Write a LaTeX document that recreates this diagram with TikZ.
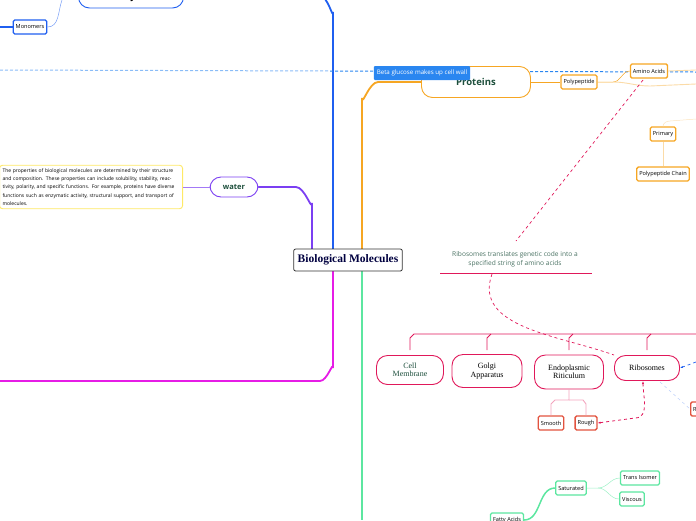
\documentclass[tikz,border=0pt]{standalone}
\usepackage{fontspec}
\setmainfont{Open Sans}
\newfontfamily\seriff{Liberation Serif}
\usetikzlibrary{arrows.meta}
\definecolor{bblue}{HTML}{1F5FF0}
\definecolor{dblue}{HTML}{2A86F0}
\definecolor{ppurple}{HTML}{7B3FF2}
\definecolor{oorange}{HTML}{F6A623}
\definecolor{ggreen}{HTML}{5CE6A0}
\definecolor{mmag}{HTML}{E61CE6}
\definecolor{rred}{HTML}{E0185A}
\definecolor{bred}{HTML}{E2533F}
\definecolor{dgreen}{HTML}{1D4F3C}
\tikzset{
 leaf/.style={draw=#1,line width=1.3pt,rounded corners=1.5pt,fill=white,font=\fontsize{5.6}{6}\selectfont,inner sep=2.5pt,minimum height=14pt},
 pill/.style={draw=#1,line width=0.9pt,rounded corners=11pt,fill=white,align=center},
}
\begin{document}
\begin{tikzpicture}[x=1pt,y=-1pt]
\useasboundingbox (0,0) rectangle (696,520);
\clip (0,0) rectangle (696,520);
% trunks
\draw[bblue,line width=1.8pt] (333,250) -- (333,12) to[out=-90,in=0] (320,-4) -- (180,-4);
\draw[ppurple,line width=1.8pt] (312,250) -- (312,203) to[out=-90,in=0] (296,187) -- (258,187);
\draw[oorange,line width=1.8pt] (362,250) -- (362,98) to[out=-90,in=180] (378,82) -- (421,82);
\draw[mmag,line width=1.8pt] (333,270) -- (333,368) to[out=90,in=0] (320,381) -- (0,381);
\draw[ggreen,line width=2pt] (362,270) -- (362,520);
% blue dashed horizontal
\draw[dblue!55,dash pattern=on 3pt off 2pt,line width=1pt] (0,70) -- (330,71);
\draw[dblue,dash pattern=on 3pt off 2pt,line width=1pt] (330,71) -- (696,72);
% top blue area
\node[pill=bblue,minimum width=105pt,minimum height=22pt,font=\bfseries\small] (carb) at (131,-3) {Carbohydrates};
\node[leaf=bblue] (mono) at (30,27) {Monomers};
\draw[bblue,line width=1.8pt] (0,27) -- (mono.west);
\draw[bblue!60,line width=0.5pt] (mono.east) to[out=0,in=-110] (62,0);
% water
\node[pill=ppurple,minimum width=48pt,minimum height=20pt,font=\bfseries\fontsize{7.5}{8}\selectfont,text=dgreen] (water) at (234,187) {water};
\node[draw=yellow!80!orange!60,line width=0.9pt,rounded corners=3pt,fill=white,text width=177pt,align=left,font=\fontsize{5}{8.4}\selectfont,inner sep=3pt,anchor=east] (note) at (183,187) {The properties of biological molecules are determined by their structure and composition. These properties can include solubility, stability, reactivity, polarity, and specific functions. For example, proteins have diverse functions such as enzymatic activity, structural support, and transport of molecules.};
\draw[ppurple!70,line width=0.5pt] (note.east) -- (water.west);
% center
\node[draw=black!80,line width=0.8pt,rounded corners=2pt,fill=white,font=\seriff\bfseries\fontsize{11.5}{13}\selectfont,text=black!75!blue,inner sep=4pt,minimum height=22pt] (center) at (348,260) {Biological Molecules};
% proteins
\node[pill=oorange,minimum width=109pt,minimum height=31pt,font=\bfseries\fontsize{9.5}{10}\selectfont,text=dgreen] (prot) at (476,82) {Proteins};
\node[leaf=oorange] (poly) at (579,82) {Polypeptide};
\node[leaf=oorange] (amino) at (649,71) {Amino Acids};
\draw[oorange,line width=0.9pt] (prot.east) -- (poly.west);
\draw[oorange,line width=0.5pt] (poly.east) -- (613,82) to[out=0,in=180] (amino.west);
\draw[oorange!40,line width=0.9pt] (amino.east) -- (696,70);
\draw[oorange!40,line width=0.9pt] (613,82) to[out=0,in=180] (650,86) -- (696,84);
\node[leaf=oorange] (prim) at (663,134) {Primary};
\node[leaf=oorange] (chain) at (663,174) {Polypeptide Chain};
\draw[oorange!40,line width=0.9pt] (prim) -- (chain);
\draw[oorange!30,line width=0.5pt] (prim.north) to[out=90,in=180] (670,121) -- (696,119);
% beta glucose
\node[fill=dblue,text=white,rounded corners=1pt,font=\fontsize{6.2}{7}\selectfont,inner sep=3pt,minimum height=14pt] (beta) at (422,73) {Beta glucose makes up cell wall};
% ribosomes note
\node[font=\fontsize{6.6}{9}\selectfont,text=dgreen!80,align=center] (ribtxt) at (515,259) {Ribosomes translates genetic code into a\\specified string of amino acids};
\draw[rred,line width=0.9pt] (440,273) -- (592,273);
\coordinate (ribtop) at (516,241);
\coordinate (ribbot) at (492,274);
\draw[rred,dashed,line width=0.7pt] (643,80) -- (ribtop);
% red tree
\draw[rred,line width=0.9pt] (410,350) -- (410,338) -- (414,334) -- (696,334);
\foreach \x in {487,569,647} \draw[rred,line width=0.9pt] (\x,350) -- (\x,338) -- (\x+4,334);
\node[pill=rred,minimum width=67pt,minimum height=29pt,font=\seriff\fontsize{8}{8.5}\selectfont,text=dgreen] (cell) at (410,370) {Cell\\Membrane};
\node[pill=rred,minimum width=70pt,minimum height=33pt,font=\seriff\fontsize{8}{8.5}\selectfont] (golgi) at (487,371) {Golgi\\Apparatus};
\node[pill=rred,minimum width=69pt,minimum height=34pt,font=\seriff\fontsize{8}{8.5}\selectfont] (er) at (569,372) {Endoplasmic\\Riticulum};
\node[pill=rred,minimum width=65pt,minimum height=25pt,font=\seriff\fontsize{8}{8.5}\selectfont] (ribo) at (647,368) {Ribosomes};
\draw[rred,dashed,line width=0.7pt] (ribbot) to[out=-110,in=160] (ribo.north west);
\node[leaf=bred] (smooth) at (551,423) {Smooth};
\node[leaf=bred] (rough) at (586,423) {Rough};
\draw[rred!40,line width=0.9pt] (er.south) -- (569,400) -- (555,400) -- (551,404) -- (smooth.north);
\draw[rred!40,line width=0.9pt] (569,400) -- (583,400) -- (586,404) -- (rough.north);
\draw[rred,dashed,line width=0.8pt,{Latex[length=3pt]}-{Latex[length=3pt]}] (rough.east) -- (635,418) to[out=0,in=-90] (643,381);
\coordinate (rightb) at (696,362);
\draw[bblue,dashed,line width=0.7pt,-{Latex[length=3pt]}] (rightb) -- (ribo.east);
\node[leaf=bred,anchor=west] (rbox) at (690,409) {Rb};
\draw[bblue!30,dashed,line width=0.5pt] (660,382) -- (rbox.west);
% green
\node[leaf=ggreen] (fatty) at (507,520) {Fatty Acids};
\node[leaf=ggreen] (sat) at (571,488) {Saturated};
\node[leaf=ggreen] (trans) at (640,478) {Trans Isomer};
\node[leaf=ggreen] (visc) at (632,499) {Viscous};
\draw[ggreen,line width=1.5pt] (fatty.east) to[out=0,in=180] (sat.west);
\draw[ggreen!60,line width=0.5pt] (sat.east) -- (598,488) to[out=0,in=180] (trans.west);
\draw[ggreen!60,line width=0.5pt] (598,488) to[out=0,in=180] (visc.west);
\end{tikzpicture}
\end{document}
